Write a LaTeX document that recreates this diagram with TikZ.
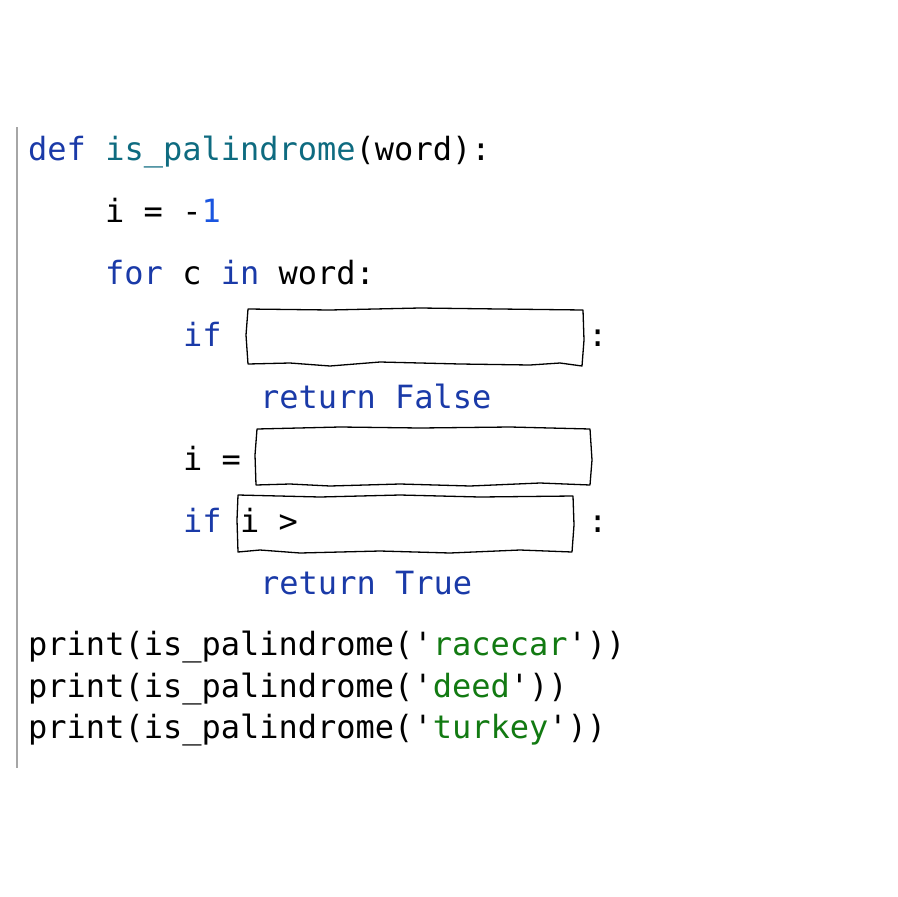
\documentclass[tikz,border=0pt]{standalone}
\usepackage{fontspec}
\setmonofont{DejaVu Sans Mono}
\definecolor{kw}{HTML}{1A3AA8}
\definecolor{fn}{HTML}{0E6B80}
\definecolor{num}{HTML}{1A55E0}
\definecolor{str}{HTML}{127A12}
\begin{document}
\begin{tikzpicture}[x=1pt,y=-1pt,
  code/.style={anchor=base west,inner sep=0,font=\ttfamily\fontsize{32}{32}\selectfont},
  blank/.style={draw=black,line width=1.3pt,line join=round}]
\useasboundingbox (0,0) rectangle (897,897);
\fill[white] (0,0) rectangle (897,897);
\draw[gray!70,line width=1.5pt] (17,127) coordinate (lt) -- (17,768) coordinate (lb);
\node[code] (l1) at (28,160) {\textcolor{kw}{def} \textcolor{fn}{is\_palindrome}(word):};
\node[code] (l2) at (105,222) {i = -\textcolor{num}{1}};
\node[code] (l3) at (105,284) {\textcolor{kw}{for} c \textcolor{kw}{in} word:};
\node[code] (l4) at (183,346) {\textcolor{kw}{if}};
\node[code] (c4) at (588,346) {:};
\node[code] (l5) at (260,408) {\textcolor{kw}{return} \textcolor{kw}{False}};
\node[code] (l6) at (183,470) {i =};
\node[code] (l7) at (183,532) {\textcolor{kw}{if}};
\node[code] (i7) at (240,532) {i >};
\node[code] (c7) at (588,532) {:};
\node[code] (l8) at (260,594) {\textcolor{kw}{return} \textcolor{kw}{True}};
\node[code] (p1) at (28,655) {print(is\_palindrome('\textcolor{str}{racecar}'))};
\node[code] (p2) at (28,697) {print(is\_palindrome('\textcolor{str}{deed}'))};
\node[code] (p3) at (28,738) {print(is\_palindrome('\textcolor{str}{turkey}'))};
% hand-drawn boxes
\draw[blank] (248,309) -- (330,310) -- (420,308) -- (500,309) -- (583,310)
  -- (584,340) -- (582,366) -- (560,363) -- (530,365) -- (460,364) -- (380,362) -- (330,366) -- (290,363) -- (248,364) -- (246,335) -- cycle;
\draw[blank] (257,429) -- (340,427) -- (420,428) -- (510,427) -- (590,429)
  -- (592,460) -- (590,485) -- (540,483) -- (470,486) -- (400,484) -- (330,486) -- (290,484) -- (256,485) -- (255,455) -- cycle;
\draw[blank] (238,495) -- (320,497) -- (400,495) -- (480,497) -- (573,496)
  -- (574,525) -- (572,552) -- (520,550) -- (450,553) -- (380,551) -- (300,553) -- (260,550) -- (238,552) -- (237,520) -- cycle;
\end{tikzpicture}
\end{document}
